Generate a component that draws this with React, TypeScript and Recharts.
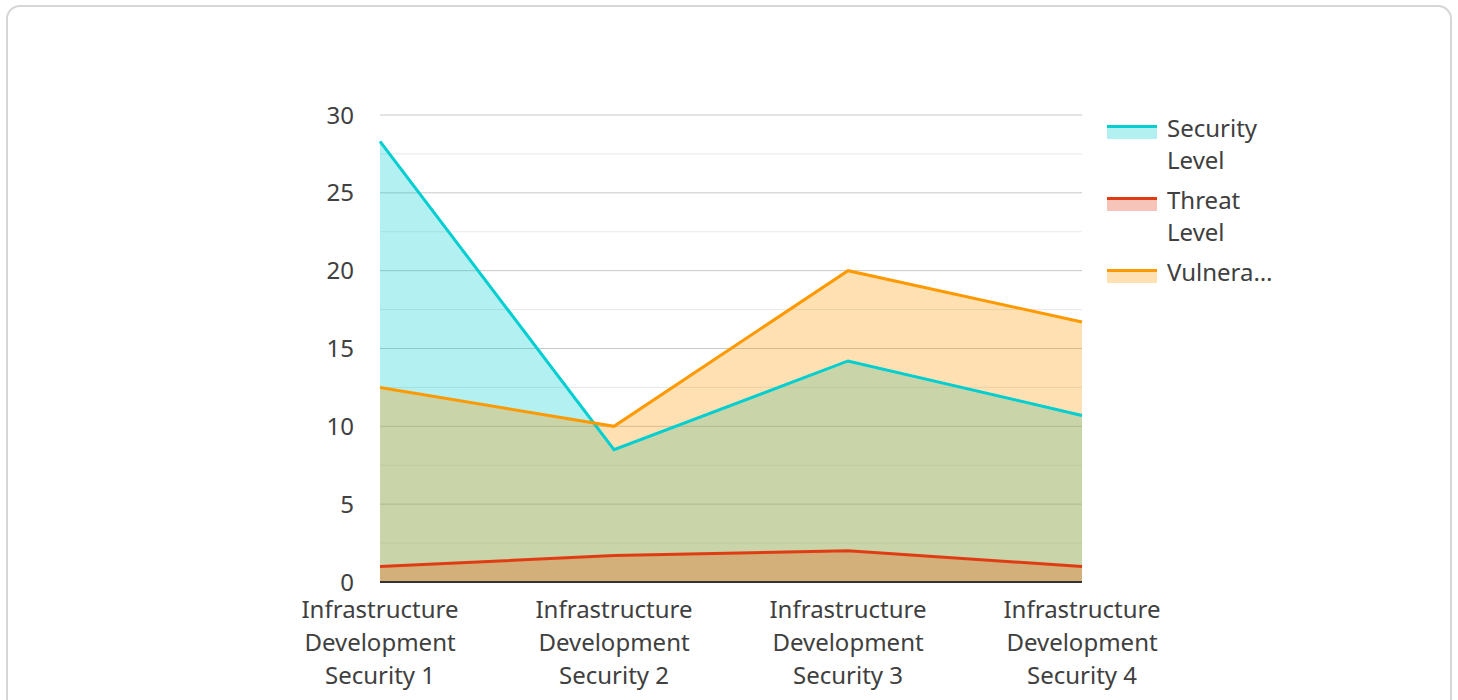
import React from "react";
import {
  AreaChart,
  Area,
  XAxis,
  YAxis,
  CartesianGrid,
  Legend,
} from "recharts";

const categories = [
  "Infrastructure Development Security 1",
  "Infrastructure Development Security 2",
  "Infrastructure Development Security 3",
  "Infrastructure Development Security 4",
];
const securityLevel = [28.3, 8.5, 14.2, 10.7];
const threatLevel = [1.0, 1.7, 2.0, 1.0];
const vulnerability = [12.5, 10.0, 20.0, 16.7];
const yTicks = [0, 5, 10, 15, 20, 25, 30];
const minorTicks = [2.5, 7.5, 12.5, 17.5, 22.5, 27.5];

const series = [
  { key: "security", name: "Security Level", color: "#00CED1" },
  { key: "threat", name: "Threat Level", color: "#E03C14" },
  { key: "vulnerability", name: "Vulnerability", color: "#FF9900" },
];

const data = categories.map((c, i) => ({
  name: c,
  security: securityLevel[i],
  threat: threatLevel[i],
  vulnerability: vulnerability[i],
}));

const FONT = "'Noto Sans', 'Open Sans', sans-serif";
const TEXT = "#404040";

const XTick = (props: any) => {
  const { x, y, payload } = props;
  const words = String(payload.value).split(" ");
  const lines = [words[0], words[1], words.slice(2).join(" ")];
  return (
    <text
      x={x}
      y={y + 28}
      textAnchor="middle"
      fill={TEXT}
      fontSize={24}
      fontFamily={FONT}
    >
      {lines.map((l, i) => (
        <tspan key={i} x={x} dy={i === 0 ? 0 : 33}>
          {l}
        </tspan>
      ))}
    </text>
  );
};

const LegendContent = () => (
  <div style={{ paddingLeft: 25, fontFamily: FONT }}>
    {series.map((s) => (
      <div
        key={s.key}
        style={{ display: "flex", alignItems: "flex-start", marginBottom: 8 }}
      >
        <div style={{ width: 50, marginTop: 13, flexShrink: 0 }}>
          <div style={{ height: 3, background: s.color }} />
          <div style={{ height: 11, background: s.color, opacity: 0.3 }} />
        </div>
        <div style={{ marginLeft: 10, width: 112 }}>
          {s.name.split(" ").map((w, i) => (
            <div
              key={i}
              style={{
                fontSize: 24,
                lineHeight: "32px",
                color: TEXT,
                whiteSpace: "nowrap",
                overflow: "hidden",
                textOverflow: "ellipsis",
              }}
            >
              {w}
            </div>
          ))}
        </div>
      </div>
    ))}
  </div>
);

export default function App() {
  return (
    <div>
      <div
        style={{
          position: "absolute",
          left: 6,
          top: 5,
          width: 1446,
          height: 720,
          border: "2px solid #d6d6d6",
          borderRadius: 14,
          boxSizing: "border-box",
          background: "#fff",
        }}
      />
      <div style={{ position: "absolute", left: 0, top: 0 }}>
        <AreaChart
          width={1300}
          height={700}
          data={data}
          margin={{ top: 115, right: 18, bottom: 8, left: 300 }}
        >
          <CartesianGrid
            vertical={false}
            horizontalValues={minorTicks}
            stroke="#e8e8e8"
            strokeWidth={1}
          />
          <CartesianGrid
            vertical={false}
            horizontalValues={yTicks}
            stroke="#c8c8c8"
            strokeWidth={1}
          />
          <XAxis
            dataKey="name"
            height={110}
            axisLine={{ stroke: "#333", strokeWidth: 2 }}
            tickLine={false}
            tick={<XTick />}
            interval={0}
          />
          <YAxis
            width={80}
            domain={[0, 30]}
            ticks={yTicks}
            axisLine={false}
            tickLine={false}
            tickSize={0}
            tickMargin={26}
            tick={{ fontSize: 24, fill: TEXT, fontFamily: FONT }}
          />
          <Legend
            layout="vertical"
            align="right"
            verticalAlign="top"
            wrapperStyle={{ width: 200, top: 112 }}
            content={<LegendContent />}
          />
          {series.map((s) => (
            <Area
              key={s.key + "-fill"}
              type="linear"
              dataKey={s.key}
              name={s.name}
              stroke="none"
              fill={s.color}
              fillOpacity={0.3}
              dot={false}
              activeDot={false}
              isAnimationActive={false}
            />
          ))}
          {series.map((s) => (
            <Area
              key={s.key + "-line"}
              type="linear"
              dataKey={s.key}
              name={s.name}
              stroke={s.color}
              strokeWidth={3}
              fill="none"
              dot={false}
              activeDot={false}
              isAnimationActive={false}
            />
          ))}
        </AreaChart>
      </div>
    </div>
  );
}
